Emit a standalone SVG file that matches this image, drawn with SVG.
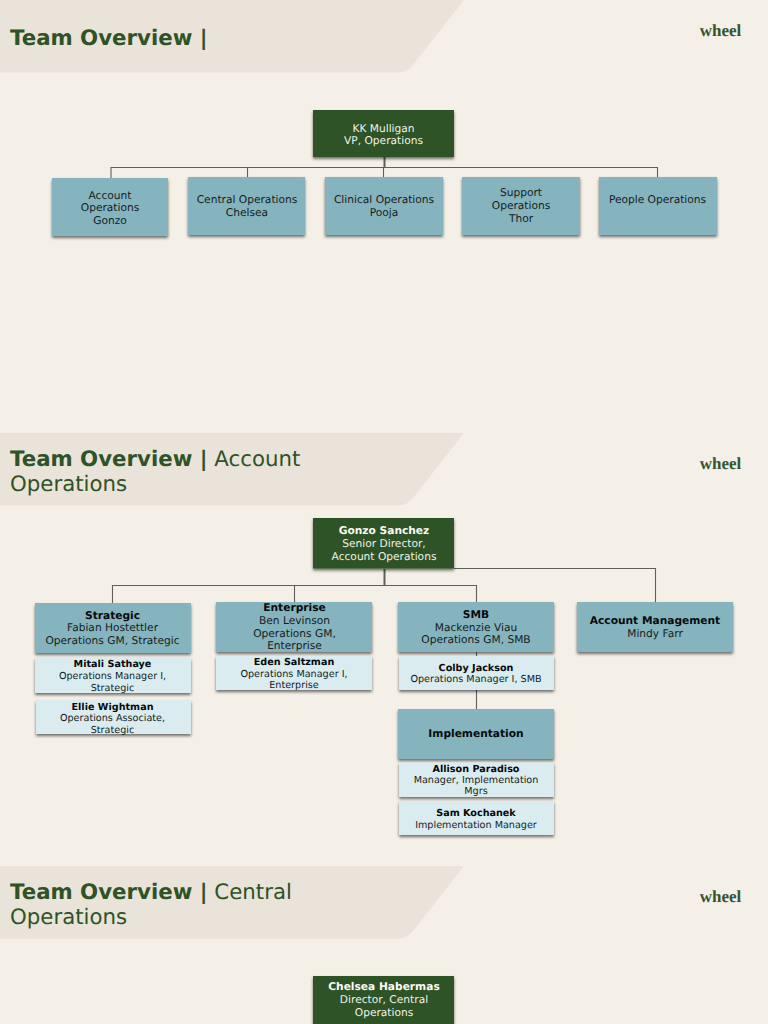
<svg xmlns="http://www.w3.org/2000/svg" width="768" height="1024" viewBox="0 0 768 1024">
<defs>
<filter id="sh" x="-10%" y="-10%" width="120%" height="130%"><feDropShadow dx="0" dy="2" stdDeviation="1.6" flood-color="#000" flood-opacity="0.55"/></filter>
<path id="banner" d="M0 0H464L413 65Q407 72.500 398 72.500H0Z" fill="#e9e3d9"/>
</defs>
<style>
text{font-family:"DejaVu Sans",sans-serif;text-anchor:middle;font-size:10.65px;fill:#141c22;text-rendering:geometricPrecision}
.dark,.mid,.light{filter:url(#sh)}
.dark{fill:#2f5226}.mid{fill:#86b4be}.light{fill:#daecef}
.w{fill:#f0f2e8}
.b{font-weight:bold;fill:#050a0c}
.w.b{fill:#fbfbf5}
.s{font-size:9.65px}
.t{font-size:21.3px;text-anchor:start;fill:#2f5226}
.t .b{fill:#2f5226}
.logo{font-family:"Liberation Serif",serif;font-weight:bold;font-size:17px;fill:#34552d}
.c{fill:none;stroke:#5f5f5c;stroke-width:1.1}
.st{fill:none;stroke:#5f5f5c;stroke-width:2}
</style>
<rect width="768" height="1024" fill="#f4f0e8"/>
<g id="headers">
<use href="#banner"/>
<text class="t" x="10" y="45"><tspan class="b">Team Overview |</tspan></text>
<text class="logo" x="720.500" y="35.500">wheel</text>
<use href="#banner" y="433"/>
<text class="t" x="10" y="466"><tspan class="b">Team Overview |</tspan> Account</text>
<text class="t" x="10" y="491">Operations</text>
<text class="logo" x="720.500" y="468.500">wheel</text>
<use href="#banner" y="866"/>
<text class="t" x="10" y="899"><tspan class="b">Team Overview |</tspan> Central</text>
<text class="t" x="10" y="924">Operations</text>
<text class="logo" x="720.500" y="901.500">wheel</text>
</g>
<g id="connectors">
<path class="c" d="M111 178V167.500H657.500V177M247.500 177V167.500M383.500 177V167.500"/>
<path class="st" d="M384.500 157V167"/>
<path class="c" d="M112.500 603V585.500H476.500V602M294.500 602V585.500M454 568.500H655.500V602M476.500 652V656M476.500 690V710"/>
<path class="st" d="M384.500 569V585"/>
</g>
<g id="n-kk"><rect class="dark" x="313" y="110" width="141" height="47"/><text class="w" x="383.500" y="132">KK Mulligan</text><text class="w" x="383.500" y="144">VP, Operations</text></g>
<g id="n-account"><rect class="mid" x="52" y="178" width="116" height="58"/><text x="110" y="198.500">Account</text><text x="110" y="211">Operations</text><text x="110" y="224">Gonzo</text></g>
<g id="n-central"><rect class="mid" x="188" y="177" width="117" height="58"/><text x="247" y="203">Central Operations</text><text x="247" y="216">Chelsea</text></g>
<g id="n-clinical"><rect class="mid" x="325" y="177" width="118" height="58"/><text x="384" y="203">Clinical Operations</text><text x="384" y="216">Pooja</text></g>
<g id="n-support"><rect class="mid" x="462" y="177" width="118" height="58"/><text x="521" y="196">Support</text><text x="521" y="209">Operations</text><text x="521" y="222">Thor</text></g>
<g id="n-people"><rect class="mid" x="599" y="177" width="118" height="58"/><text x="657.500" y="203">People Operations</text></g>

<g id="n-gonzo"><rect class="dark" x="313" y="518" width="141" height="50.500"/><text class="w b" x="384" y="534">Gonzo Sanchez</text><text class="w" x="384" y="547">Senior Director,</text><text class="w" x="384" y="560">Account Operations</text></g>
<g id="n-strategic"><rect class="mid" x="35" y="603" width="156" height="50"/><text class="b" x="112.500" y="619">Strategic</text><text x="112.500" y="631">Fabian Hostettler</text><text x="112.500" y="644">Operations GM, Strategic</text></g>
<g id="n-enterprise"><rect class="mid" x="216" y="602" width="156" height="50"/><text class="b" x="294.500" y="611">Enterprise</text><text x="294.500" y="624">Ben Levinson</text><text x="294.500" y="637">Operations GM,</text><text x="294.500" y="649">Enterprise</text></g>
<g id="n-smb"><rect class="mid" x="398" y="602" width="156" height="50"/><text class="b" x="476" y="618">SMB</text><text x="476" y="631">Mackenzie Viau</text><text x="476" y="643">Operations GM, SMB</text></g>
<g id="n-am"><rect class="mid" x="577" y="602" width="156" height="50"/><text class="b" x="655" y="624">Account Management</text><text x="655" y="637">Mindy Farr</text></g>
<g id="n-mitali"><rect class="light" x="35" y="658" width="156" height="35"/><text class="s b" x="112.500" y="667">Mitali Sathaye</text><text class="s" x="112.500" y="679">Operations Manager I,</text><text class="s" x="112.500" y="690.500">Strategic</text></g>
<g id="n-ellie"><rect class="light" x="36" y="700" width="155" height="34"/><text class="s b" x="112.500" y="709.500">Ellie Wightman</text><text class="s" x="112.500" y="720.500">Operations Associate,</text><text class="s" x="112.500" y="733">Strategic</text></g>
<g id="n-eden"><rect class="light" x="216" y="656" width="156" height="34"/><text class="s b" x="294" y="665">Eden Saltzman</text><text class="s" x="294" y="677">Operations Manager I,</text><text class="s" x="294" y="688">Enterprise</text></g>
<g id="n-colby"><rect class="light" x="399" y="656" width="155" height="34"/><text class="s b" x="476" y="671">Colby Jackson</text><text class="s" x="476" y="682">Operations Manager I, SMB</text></g>
<g id="n-impl"><rect class="mid" x="398" y="709" width="156" height="50"/><text class="b" x="476" y="737">Implementation</text></g>
<g id="n-allison"><rect class="light" x="399" y="762.500" width="155" height="34.500"/><text class="s b" x="476" y="772">Allison Paradiso</text><text class="s" x="476" y="783">Manager, Implementation</text><text class="s" x="476" y="794">Mgrs</text></g>
<g id="n-sam"><rect class="light" x="399" y="801" width="155" height="34"/><text class="s b" x="476" y="815.500">Sam Kochanek</text><text class="s" x="476" y="828">Implementation Manager</text></g>

<g id="n-chelsea"><rect class="dark" x="313" y="976" width="141" height="48"/><text class="w b" x="384" y="990">Chelsea Habermas</text><text class="w" x="384" y="1003">Director, Central</text><text class="w" x="384" y="1016">Operations</text></g>
</svg>
